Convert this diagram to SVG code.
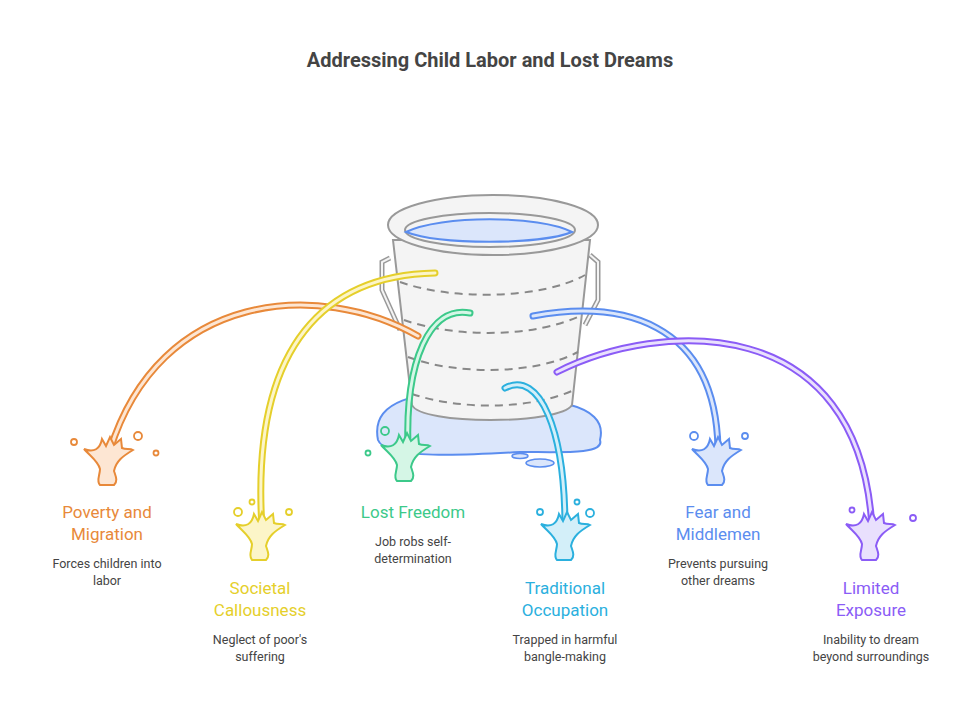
<svg xmlns="http://www.w3.org/2000/svg" width="980" height="709" viewBox="0 0 980 709">
<style>
text{font-family:Roboto,"Liberation Sans",sans-serif;text-anchor:middle}
.t{font-size:17px}.d{font-size:12.5px;fill:#444}
.b{fill:#f4f4f4;stroke:#999;stroke-width:2}
.dash{fill:none;stroke:#888;stroke-width:2;stroke-dasharray:8 6}
.so{fill:none;stroke-linecap:round;stroke-width:7}
.si{fill:none;stroke-linecap:round;stroke-width:3}
.dot{fill:none;stroke-width:1.8}
</style>
<defs>
<path id="spl" d="M-24,2 C-14,6 -8,2 -6,-8 L-2,-1 L2,-10 L6,-2 L13,-8 L14,1 C18,3 22,1 25,3 C15,9 8,14 6,24 C8,30 10,34 6,38 L-8,38 C-12,34 -8,28 -8,22 C-10,14 -18,9 -24,2 Z"/>
</defs>
<rect width="980" height="709" fill="#fff"/>
<text x="490" y="67" style="font-size:20px;font-weight:bold;fill:#444">Addressing Child Labor and Lost Dreams</text>
<g id="bucket">
<path d="M378,440 C370,400 420,390 470,395 C540,398 610,400 600,440 C605,455 560,452 520,452 C470,455 385,460 378,440 Z" fill="#dbe6fb" stroke="#5B8DEF" stroke-width="2"/>
<ellipse cx="520" cy="456" rx="8" ry="2.5" fill="#dbe6fb" stroke="#5B8DEF" stroke-width="1.5"/>
<ellipse cx="540" cy="463" rx="14" ry="4" fill="#dbe6fb" stroke="#5B8DEF" stroke-width="1.5"/>
<path d="M390,258 L382,262 L382,290 L400,330" fill="none" stroke="#999" stroke-width="5"/>
<path d="M390,258 L382,262 L382,290 L400,330" fill="none" stroke="#f4f4f4" stroke-width="2"/>
<path d="M590,255 L598,262 L598,300 L585,325" fill="none" stroke="#999" stroke-width="5"/>
<path d="M590,255 L598,262 L598,300 L585,325" fill="none" stroke="#f4f4f4" stroke-width="2"/>
<path class="b" d="M393,240 L412,405 C420,425 560,425 572,405 L590,240 Z"/>
<path class="dash" d="M400,282 C450,300 540,300 585,275"/>
<path class="dash" d="M404,320 C455,338 535,338 582,315"/>
<path class="dash" d="M408,357 C455,375 535,375 578,352"/>
<path class="dash" d="M412,394 C460,410 530,410 574,390"/>
<ellipse class="b" cx="493" cy="225" rx="105" ry="30"/>
<ellipse cx="490" cy="230" rx="85" ry="17" fill="#f4f4f4" stroke="#999" stroke-width="2"/>
<path d="M406,232 C440,215 540,215 572,232 C540,245 440,245 406,232 Z" fill="#dbe6fb" stroke="#5B8DEF" stroke-width="2"/>
</g>
<g id="connectors">
<path class="so" stroke="#E8893A" d="M418,336 C320,280 160,290 110,450"/><path class="si" stroke="#fde6d3" d="M418,336 C320,280 160,290 110,450"/>
<path class="so" stroke="#E5CF2B" d="M435,273 C330,275 250,340 262,528"/><path class="si" stroke="#fcf5c8" d="M435,273 C330,275 250,340 262,528"/>
<path class="so" stroke="#3CC98A" d="M470,313 C430,305 405,360 408,448"/><path class="si" stroke="#d5f6e6" d="M470,313 C430,305 405,360 408,448"/>
<path class="so" stroke="#2BB0DE" d="M505,388 C540,370 565,430 565,528"/><path class="si" stroke="#d3eff9" d="M505,388 C540,370 565,430 565,528"/>
<path class="so" stroke="#5B8DEF" d="M533,316 C620,300 715,320 718,448"/><path class="si" stroke="#dbe6fb" d="M533,316 C620,300 715,320 718,448"/>
<path class="so" stroke="#8B5CF6" d="M557,372 C660,320 860,310 872,528"/><path class="si" stroke="#e9e0fd" d="M557,372 C660,320 860,310 872,528"/>
</g>
<g id="n1" fill="#E8893A">
<use href="#spl" x="108" y="447" fill="#fde6d3" stroke="#E8893A" stroke-width="2"/>
<circle class="dot" stroke="#E8893A" cx="74" cy="442" r="3"/><circle class="dot" stroke="#E8893A" cx="138" cy="436" r="4"/><circle class="dot" stroke="#E8893A" cx="156" cy="453" r="2.5"/>
<text class="t" x="107" y="518">Poverty and</text><text class="t" x="107" y="540">Migration</text>
<text class="d" x="107" y="568">Forces children into</text><text class="d" x="107" y="585">labor</text>
</g>
<g id="n2" fill="#E5CF2B">
<use href="#spl" x="260" y="522" fill="#fcf5c8" stroke="#E5CF2B" stroke-width="2"/>
<circle class="dot" stroke="#E5CF2B" cx="238" cy="512" r="4"/><circle class="dot" stroke="#E5CF2B" cx="252" cy="502" r="2.5"/><circle class="dot" stroke="#E5CF2B" cx="289" cy="512" r="3"/>
<text class="t" x="260" y="594">Societal</text><text class="t" x="260" y="616">Callousness</text>
<text class="d" x="260" y="644">Neglect of poor's</text><text class="d" x="260" y="661">suffering</text>
</g>
<g id="n3" fill="#3CC98A">
<use href="#spl" x="405" y="443" fill="#d5f6e6" stroke="#3CC98A" stroke-width="2"/>
<circle class="dot" stroke="#3CC98A" cx="385" cy="431" r="4"/><circle class="dot" stroke="#3CC98A" cx="368" cy="453" r="2.5"/>
<text class="t" x="413" y="518">Lost Freedom</text>
<text class="d" x="413" y="546">Job robs self-</text><text class="d" x="413" y="563">determination</text>
</g>
<g id="n4" fill="#2BB0DE">
<use href="#spl" x="565" y="522" fill="#d3eff9" stroke="#2BB0DE" stroke-width="2"/>
<circle class="dot" stroke="#2BB0DE" cx="540" cy="512" r="3"/><circle class="dot" stroke="#2BB0DE" cx="577" cy="502" r="2.5"/><circle class="dot" stroke="#2BB0DE" cx="590" cy="513" r="4"/>
<text class="t" x="565" y="594">Traditional</text><text class="t" x="565" y="616">Occupation</text>
<text class="d" x="565" y="644">Trapped in harmful</text><text class="d" x="565" y="661">bangle-making</text>
</g>
<g id="n5" fill="#5B8DEF">
<use href="#spl" x="716" y="447" fill="#dbe6fb" stroke="#5B8DEF" stroke-width="2"/>
<circle class="dot" stroke="#5B8DEF" cx="694" cy="436" r="4"/><circle class="dot" stroke="#5B8DEF" cx="745" cy="436" r="3"/>
<text class="t" x="718" y="518">Fear and</text><text class="t" x="718" y="540">Middlemen</text>
<text class="d" x="718" y="568">Prevents pursuing</text><text class="d" x="718" y="585">other dreams</text>
</g>
<g id="n6" fill="#8B5CF6">
<use href="#spl" x="870" y="522" fill="#e9e0fd" stroke="#8B5CF6" stroke-width="2"/>
<circle class="dot" stroke="#8B5CF6" cx="852" cy="510" r="2.5"/><circle class="dot" stroke="#8B5CF6" cx="913" cy="518" r="3"/>
<text class="t" x="871" y="594">Limited</text><text class="t" x="871" y="616">Exposure</text>
<text class="d" x="871" y="644">Inability to dream</text><text class="d" x="871" y="661">beyond surroundings</text>
</g>
</svg>
